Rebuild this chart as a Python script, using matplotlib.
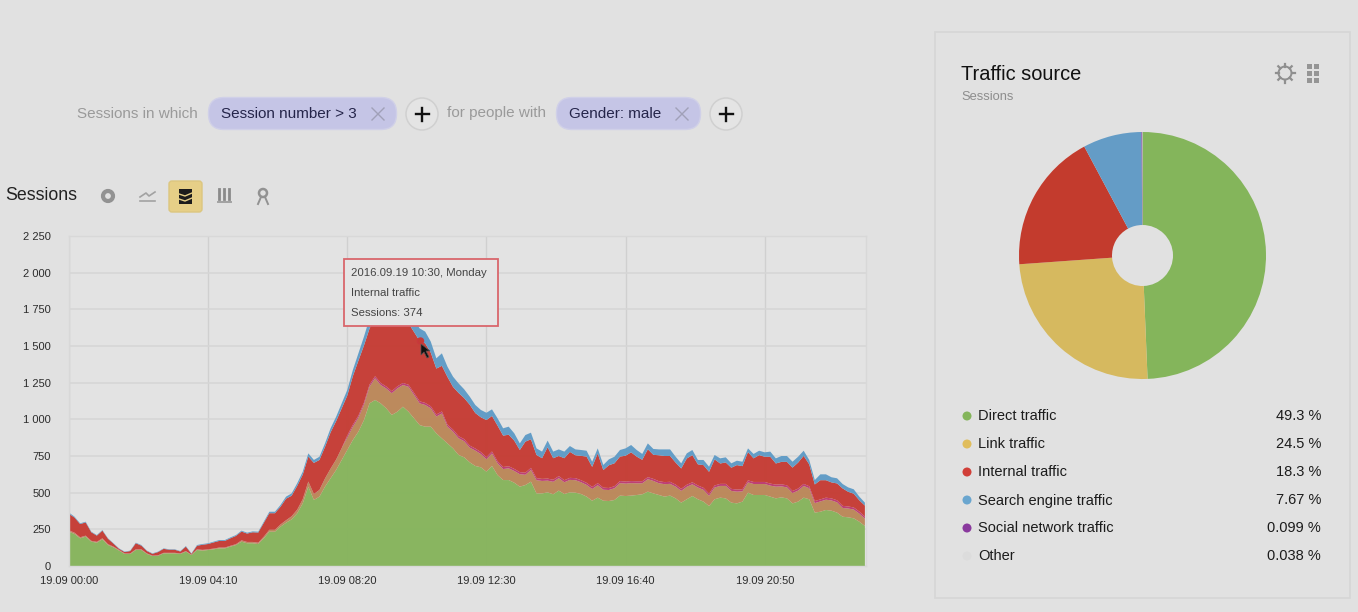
import numpy as np
import matplotlib
matplotlib.use("Agg")
import matplotlib.pyplot as plt
from matplotlib.patches import Circle, FancyBboxPatch, Polygon, Rectangle

plt.rcParams["font.family"] = ["Liberation Sans", "DejaVu Sans"]

BG = "#e1e1e1"
W, H = 1358, 612

# sessions per 10 minute step
total = [364, 336, 291, 302, 234, 211, 245, 189, 155, 120,
         98, 105, 159, 143, 105, 86, 98, 120, 114, 114,
         102, 136, 86, 143, 150, 155, 166, 177, 177, 195,
         211, 241, 227, 236, 234, 302, 370, 370, 416, 473,
         495, 564, 643, 768, 723, 745, 836, 939, 1018, 1109,
         1200, 1336, 1450, 1564, 1689, 1780, 1840, 1880, 1860, 1830,
         1790, 1740, 1680, 1620, 1598, 1530, 1416, 1450, 1359, 1291,
         1245, 1205, 1155, 1098, 1064, 1045, 1068, 1007, 939, 950,
         905, 836, 893, 909, 802, 780, 855, 780, 795, 780,
         818, 795, 791, 786, 711, 802, 689, 727, 745, 791,
         802, 825, 791, 764, 836, 798, 795, 795, 795, 745,
         700, 768, 791, 723, 723, 677, 757, 734, 741, 700,
         718, 711, 802, 764, 786, 775, 780, 734, 750, 750,
         711, 745, 786, 723, 586, 625, 625, 605, 598, 559,
         536, 523, 473, 432]

direct = [234, 218, 189, 200, 166, 159, 182, 143, 127, 105,
          82, 82, 109, 109, 82, 68, 70, 86, 86, 86,
          82, 98, 75, 109, 105, 109, 114, 120, 120, 132,
          143, 166, 155, 155, 150, 189, 234, 234, 268, 295,
          318, 359, 427, 541, 450, 473, 541, 598, 655, 723,
          791, 859, 916, 995, 1109, 1132, 1109, 1075, 1030, 1052,
          1086, 1052, 1007, 961, 950, 950, 905, 870, 836, 802,
          757, 741, 707, 682, 673, 643, 682, 620, 586, 586,
          568, 541, 552, 575, 495, 495, 502, 489, 514, 491,
          502, 500, 491, 473, 445, 466, 445, 443, 450, 480,
          477, 480, 484, 489, 507, 495, 484, 473, 480, 461,
          432, 455, 477, 455, 439, 409, 455, 466, 461, 432,
          427, 439, 500, 484, 484, 484, 473, 461, 468, 461,
          427, 439, 466, 455, 364, 370, 382, 377, 364, 336,
          332, 325, 302, 273]

link = [8, 8, 6, 6, 5, 5, 6, 5, 4, 4,
        3, 3, 4, 4, 3, 2, 2, 3, 3, 3,
        3, 3, 2, 4, 4, 4, 4, 5, 5, 5,
        5, 8, 8, 8, 8, 10, 12, 12, 14, 16,
        20, 24, 28, 34, 40, 45, 55, 65, 70, 80,
        85, 90, 95, 105, 114, 148, 125, 135, 148, 159,
        148, 170, 159, 148, 148, 125, 114, 170, 114, 114,
        114, 110, 100, 105, 90, 85, 85, 80, 75, 80,
        80, 85, 70, 80, 90, 85, 80, 85, 85, 80,
        85, 85, 80, 80, 80, 85, 75, 75, 80, 85,
        85, 85, 80, 75, 85, 85, 80, 85, 80, 80,
        80, 85, 80, 80, 80, 70, 80, 80, 85, 80,
        80, 70, 70, 75, 75, 75, 75, 80, 75, 75,
        70, 75, 80, 75, 65, 70, 70, 70, 70, 60,
        60, 60, 55, 50]

search = [8, 6, 5, 5, 4, 4, 4, 3, 3, 3,
          3, 3, 4, 4, 3, 3, 3, 3, 3, 3,
          3, 4, 3, 5, 5, 5, 5, 6, 6, 6,
          6, 6, 6, 6, 6, 8, 10, 10, 12, 14,
          16, 18, 20, 22, 20, 22, 24, 28, 30, 34,
          38, 42, 50, 60, 70, 80, 80, 85, 85, 85,
          85, 85, 85, 85, 80, 75, 70, 85, 70, 70,
          65, 60, 55, 55, 50, 50, 45, 50, 50, 55,
          50, 45, 45, 45, 45, 45, 45, 45, 45, 45,
          40, 40, 40, 40, 35, 35, 35, 40, 45, 45,
          50, 50, 45, 40, 40, 40, 40, 45, 45, 40,
          35, 35, 35, 30, 35, 35, 30, 35, 35, 30,
          30, 30, 25, 30, 30, 30, 35, 35, 40, 40,
          40, 40, 35, 30, 30, 40, 40, 35, 35, 30,
          30, 30, 25, 20]

# social is only a hairline: barely there at night, about 14 sessions from 08:20
social = [1] * 50 + [14] * 94

y_ticks = [0, 250, 500, 750, 1000, 1250, 1500, 1750, 2000, 2250]
y_labels = ["0", "250", "500", "750", "1 000", "1 250", "1 500", "1 750", "2 000", "2 250"]
x_ticks = [0, 25, 50, 75, 100, 125]
x_labels = ["19.09 00:00", "19.09 04:10", "19.09 08:20", "19.09 12:30", "19.09 16:40", "19.09 20:50"]

source_names = ["Direct traffic", "Link traffic", "Internal traffic",
                "Search engine traffic", "Social network traffic", "Other"]
source_share = [49.3, 24.5, 18.3, 7.67, 0.099, 0.038]
source_labels = ["49.3 %", "24.5 %", "18.3 %", "7.67 %", "0.099 %", "0.038 %"]
source_colors = ["#84b55b", "#d6b95f", "#c33b2d", "#649cc6", "#8a3a9e", "#dcdcdc"]
legend_dots = ["#84b55b", "#e0bd5c", "#d13f38", "#6aa6cf", "#8a3a9e", "#dcdcdc"]


def px_axes(fig, left, top, right, bottom):
    return fig.add_axes([left / W, 1 - bottom / H, (right - left) / W, (bottom - top) / H])


def draw_stack(ax):
    steps = np.arange(len(total))
    internal = np.array(total) - np.array(direct) - np.array(link) - np.array(social) - np.array(search)
    internal = np.maximum(internal, 0)

    ax.set_facecolor("#e3e3e3")
    ax.grid(True, axis="y", color="#d6d6d6", lw=1.2, zorder=0)
    ax.grid(True, axis="x", color="#d0d0d0", lw=1.0, zorder=0)
    ax.set_axisbelow(True)
    ax.stackplot(steps, direct, link, social, internal, search,
                 colors=["#86b45c", "#bb8759", "#bd3a70", "#c53c34", "#5f9bc6"],
                 lw=0, alpha=0.97, zorder=2)
    ax.set_xlim(0, 143.2)
    ax.set_ylim(0, 2250)
    ax.set_xticks(x_ticks, x_labels)
    ax.set_yticks(y_ticks, y_labels)
    ax.tick_params(length=0, labelsize=8, labelcolor="#2c2c2c")
    ax.tick_params(axis="x", pad=7)
    ax.tick_params(axis="y", pad=13)
    for spine in ax.spines.values():
        spine.set_color("#d8d8d8")
        spine.set_linewidth(1.0)


def draw_pie(ax):
    ax.pie(source_share, colors=source_colors, startangle=90, counterclock=False,
           radius=1.0, wedgeprops={"width": 1 - 30.5 / 123.5, "linewidth": 0})
    ax.set_xlim(-1, 1)
    ax.set_ylim(-1, 1)


def chip(ov, x0, x1, label, close_x):
    ov.add_patch(FancyBboxPatch((x0 + 15, 98 + 15), x1 - x0 - 30, 1, boxstyle="round,pad=15.5,rounding_size=15.5",
                                fc="#c5c5e6", ec="#d0d0e8", lw=1))
    ov.text(x0 + 12, 114.5, label, fontsize=11, color="#25254a", va="center")
    ov.plot([close_x - 6, close_x + 6], [108, 120], color="#a0a0b8", lw=1)
    ov.plot([close_x - 6, close_x + 6], [120, 108], color="#a0a0b8", lw=1)


def plus(ov, x):
    ov.add_patch(Circle((x, 114), 16, fc="#e4e4e4", ec="#d0d0d0", lw=1.1))
    ov.plot([x - 6.5, x + 6.5], [114, 114], color="#111111", lw=1.7)
    ov.plot([x, x], [107.5, 120.5], color="#111111", lw=1.7)


def draw_toolbar(ov):
    ov.text(5, 196, "Sessions", fontsize=12.8, color="#222222", va="center")
    gray = "#a2a2a2"
    ov.add_patch(Circle((108, 196), 5, fc="none", ec="#929292", lw=3))
    ov.plot([140, 146, 149, 155], [197, 193, 196, 192], color=gray, lw=1.2)
    ov.plot([140, 155], [201, 201], color=gray, lw=1.2)
    ov.add_patch(FancyBboxPatch((172, 184), 27, 25, boxstyle="round,pad=3,rounding_size=3", fc="#e6cf87", ec="#dcc67f", lw=1))
    ov.add_patch(Rectangle((179, 189), 13, 15, fc="#1c1c1c", ec="none"))
    ov.plot([179, 185, 192], [194, 196, 193], color="#e6cf87", lw=1)
    ov.plot([179, 185, 192], [199, 201, 198], color="#e6cf87", lw=1)
    for x in (219, 224, 229):
        ov.plot([x, x], [189, 199], color="#8a8a8a", lw=2)
    ov.plot([218, 231], [202, 202], color=gray, lw=1.4)
    ov.add_patch(Circle((263, 193), 4, fc="none", ec="#929292", lw=1.8))
    ov.plot([261, 258], [197, 204], color="#929292", lw=1.4)
    ov.plot([265, 268], [197, 204], color="#929292", lw=1.4)


def draw_tooltip(ov):
    ov.add_patch(Rectangle((343.5, 258.5), 154, 67, fc="#e5e5e5", ec="#d9666c", lw=1.3, zorder=5))
    lines = ["2016.09.19 10:30, Monday", "Internal traffic", "Sessions: 374"]
    for y, line in zip((273.5, 293, 312.5), lines):
        ov.text(351, y, line, fontsize=8.2, color="#444444", va="center", zorder=6)
    ov.add_patch(Circle((420.5, 341), 3, fc="#c53c34", ec="#c8383c", lw=1, zorder=6))
    ov.add_patch(Polygon([(421, 344), (421, 355), (424, 352), (427, 358), (429, 357), (426, 351), (430, 351)],
                         fc="#111111", ec="#555555", lw=0.5, zorder=7))


def draw_panel(ov):
    ov.add_patch(Rectangle((934.5, 31.5), 415, 566, fc="none", ec="#d6d6d6", lw=1.3))
    ov.text(961, 74, "Traffic source", fontsize=14.4, color="#111111", va="center")
    ov.text(961, 97.5, "Sessions", fontsize=9.3, color="#8d8d8d", va="center")

    # gear and drag handle
    ov.add_patch(Circle((1285, 73), 6.5, fc="none", ec="#8f8f8f", lw=1.4))
    for a in np.deg2rad(np.arange(0, 360, 45)):
        ov.plot([1285 + 6.5 * np.cos(a), 1285 + 9.5 * np.cos(a)],
                [73 + 6.5 * np.sin(a), 73 + 9.5 * np.sin(a)], color="#8f8f8f", lw=1.6)
    for x in (1309.5, 1316.5):
        for y in (66, 73, 80):
            ov.add_patch(Rectangle((x - 2.5, y - 2.5), 5, 5, fc="#959595", ec="none"))

    for y, name, label, dot in zip(range(416, 557, 28), source_names, source_labels, legend_dots):
        ov.add_patch(Circle((967, y), 4.5, fc=dot, ec="none"))
        ov.text(978, y + 0.5, name, fontsize=10.5, color="#1c1c1c", va="center")
        ov.text(1321, y + 0.5, label, fontsize=10.5, color="#1c1c1c", va="center", ha="right")


def main():
    fig = plt.figure(figsize=(W / 100, H / 100), dpi=100, facecolor=BG)

    draw_stack(px_axes(fig, 69, 236, 866, 566))
    draw_pie(px_axes(fig, 1019, 132, 1266, 379))

    # overlay in picture pixels for the UI parts around the charts
    ov = fig.add_axes([0, 0, 1, 1], zorder=10)
    ov.set_xlim(0, W)
    ov.set_ylim(H, 0)
    ov.axis("off")
    ov.patch.set_alpha(0)

    ov.text(77, 113.5, "Sessions in which", fontsize=11, color="#9a9a9a", va="center")
    chip(ov, 209, 396, "Session number > 3", 378)
    plus(ov, 422)
    ov.text(447, 113.5, "for people with", fontsize=11, color="#9a9a9a", va="center")
    chip(ov, 557, 700, "Gender: male", 682)
    plus(ov, 726)

    draw_toolbar(ov)
    draw_tooltip(ov)
    draw_panel(ov)

    fig.savefig("out.png", dpi=100, facecolor=BG)
    plt.close(fig)


if __name__ == "__main__":
    main()
